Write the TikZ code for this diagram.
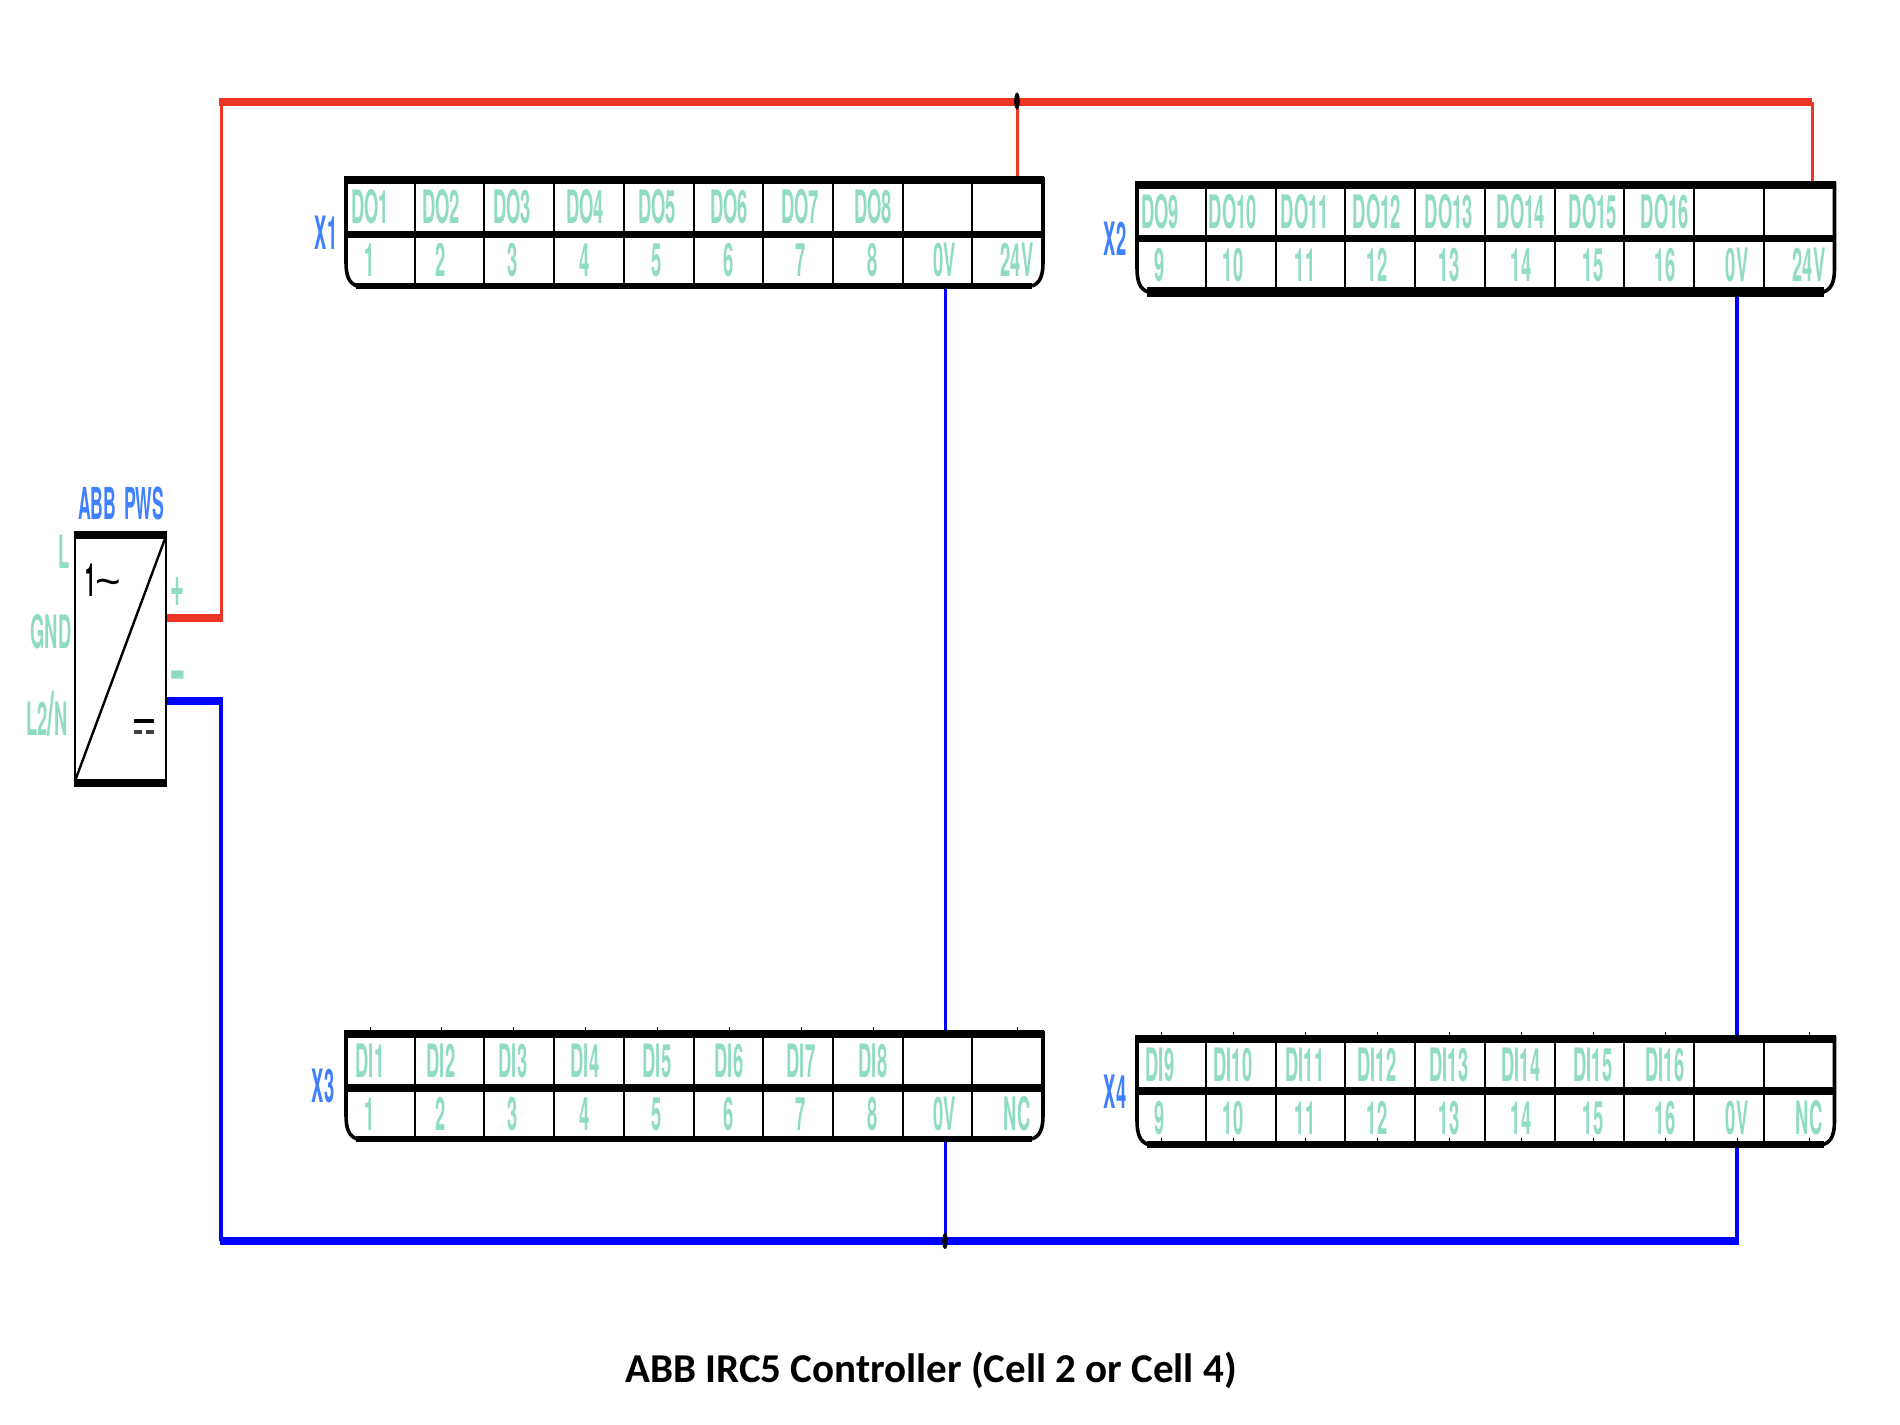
\documentclass[tikz,border=0pt]{standalone}
\usepackage{fontspec}
\setmainfont{Liberation Sans}
\newfontfamily\cadfont[FakeStretch=0.40]{TeX Gyre Heros Bold}
\newfontfamily\titlefont{Carlito Bold}
\definecolor{cadteal}{HTML}{8FDCC1}
\definecolor{cadblue}{HTML}{3F80FF}
\definecolor{wirered}{HTML}{EE3524}
\definecolor{wireblue}{HTML}{0000FF}
\tikzset{
  x=0.5pt,y=-0.5pt,
  tealtext/.style={text=cadteal,font=\cadfont\fontsize{23}{23}\selectfont,inner sep=0pt},
  bluetext/.style={text=cadblue,font=\cadfont\fontsize{23}{23}\selectfont,inner sep=0pt},
  band/.style={line width=3.6pt,black,line cap=butt},
  cellline/.style={line width=1pt,black},
  sideline/.style={line width=1.8pt,black},
  redthick/.style={line width=3.7pt,wirered,line join=miter},
  redthin/.style={line width=1.5pt,wirered},
  bluethick/.style={line width=3.8pt,wireblue,line join=miter},
  bluethin/.style={line width=1.5pt,wireblue},
  junction/.style={ellipse,draw=none,fill=black,minimum width=2.8pt,minimum height=8.5pt,inner sep=0pt},
}
\usetikzlibrary{shapes.geometric}
% #1 name, #2 left, #3 top, #4 cell width, #5 mid, #6 bottom, #7 bottom band width
\newcommand{\stripbox}[7]{%
  \coordinate (#1-tl) at (#2,#3);
  \draw[band] (#2-1,#3) -- ++(10*#4+3,0);
  \draw[band] (#2-1,#5) -- ++(10*#4+3,0);
  \draw[line width=#7,black] (#2+11,#6) -- ++(10*#4-21,0);
  \foreach \k in {1,...,9} {\draw[cellline] (#2+\k*#4,#3) -- (#2+\k*#4,#6);}
  \draw[sideline] (#2+1,#3-3) -- (#2+1,#6-24) .. controls (#2+1,#6-10) and (#2+4,#6-3) .. (#2+12,#6);
  \draw[sideline] (#2+10*#4+1,#3-3) -- (#2+10*#4+1,#6-24) .. controls (#2+10*#4+1,#6-10) and (#2+10*#4-2,#6-3) .. (#2+10*#4-10,#6);
}
\newcommand{\rowlabels}[2]{%
  \foreach \lx/\lt in {#2} {\node[tealtext,anchor=center] at (\lx,#1) {\lt};}
}
\newcommand{\tickmarks}[1]{%
  \foreach \lx in {#1} {\draw[line width=.5pt,black] (\lx,\ya) -- (\lx,\ya-3);\draw[line width=.5pt,black] (\lx,\yb) -- (\lx,\yb-3);}
}
\begin{document}
\begin{tikzpicture}
\useasboundingbox (0,0) rectangle (1900,1424);
\fill[white] (0,0) rectangle (1900,1424);

% wires first
\coordinate (plus) at (165,618);
\coordinate (minus) at (165,701);
\coordinate (redL) at (221,618);
\coordinate (redTL) at (221,102);
\coordinate (redTR) at (1812,102);
\coordinate (redJ) at (1017,101);
\coordinate (x1v) at (1017,180);
\coordinate (x2v) at (1812,185);
\coordinate (bluL) at (221,701);
\coordinate (bluBL) at (221,1241);
\coordinate (bluBR) at (1737,1241);
\coordinate (bluJ) at (945,1241);
\coordinate (x1o) at (945,286);
\coordinate (x3ot) at (945,1034);
\coordinate (x3ob) at (945,1139);
\coordinate (x2o) at (1737,292);
\coordinate (x4ot) at (1737,1041);
\coordinate (x4ob) at (1737,1144);

\draw[redthick] (plus) -- ++(58,0);
\draw[redthin] (redL) -- (redTL);
\draw[redthick] (219,102) -- (redTR);
\draw[redthin] (redTR) -- (x2v);
\draw[redthin] (redJ) -- (x1v);
\node[junction] (jr) at (redJ) {};
\draw[bluethick] (minus) -- ++(58,0);
\draw[line width=1.9pt,wireblue] (bluL) -- (bluBL);
\draw[bluethick] (220,1241) -- (1739,1241);
\draw[bluethin] (x1o) -- (x3ot);
\draw[bluethin] (x3ob) -- (bluJ);
\draw[line width=2pt,wireblue] (x2o) -- (x4ot);
\draw[line width=2pt,wireblue] (x4ob) -- (bluBR);
\node[junction,minimum height=8pt] (jb) at (bluJ) {};

% terminal strips
\stripbox{x1}{345}{180}{69.7}{234.5}{286}{3.4pt}
\stripbox{x2}{1136}{185}{69.75}{238.5}{292}{5pt}
\stripbox{x3}{345}{1034}{69.7}{1088}{1139}{3.4pt}
\stripbox{x4}{1136}{1039}{69.75}{1091}{1144.5}{3.5pt}

\rowlabels{207}{370/DO1,441/DO2,512/DO3,585/DO4,657/DO5,729/DO6,800/DO7,873/DO8}
\rowlabels{260}{370/1,441/2,513/3,585/4,657/5,729/6,801/7,873/8,945/0V,1017/24V}
\rowlabels{212}{1160/DO9,1233/DO10,1305/DO11,1377/DO12,1449/DO13,1521/DO14,1593/DO15,1665/DO16}
\rowlabels{265}{1160/9,1233/10,1305/11,1377/12,1449/13,1521/14,1593/15,1665/16,1737/0V,1809/24V}
\rowlabels{1061}{370/DI1,441/DI2,513/DI3,585/DI4,657/DI5,729/DI6,801/DI7,873/DI8}
\rowlabels{1114}{370/1,441/2,513/3,585/4,657/5,729/6,801/7,873/8,945/0V,1017/NC}
\rowlabels{1065}{1160/DI9,1233/DI10,1305/DI11,1377/DI12,1449/DI13,1521/DI14,1593/DI15,1665/DI16}
\rowlabels{1118}{1160/9,1233/10,1305/11,1377/12,1449/13,1521/14,1593/15,1665/16,1737/0V,1809/NC}

\def\ya{1030}\def\yb{1139}
\tickmarks{370,441,513,585,657,729,801,873,945,1017}
\def\ya{1035}\def\yb{1141}
\tickmarks{1161,1233,1305,1377,1449,1521,1593,1665,1737,1809}

\node[bluetext] (lx1) at (326,233) {X1};
\node[bluetext] (lx2) at (1115,239) {X2};
\node[bluetext] (lx3) at (323,1086) {X3};
\node[bluetext] (lx4) at (1115,1092) {X4};

% power supply
\draw[line width=1pt,black] (75,535) -- (75,783);
\draw[line width=1pt,black] (165.5,535) -- (165.5,783);
\draw[band] (74,535) -- (167,535);
\draw[band] (74,783) -- (167,783);
\draw[line width=1.2pt,black] (75,781) -- (166,536);
\node[bluetext,font=\cadfont\fontsize{22}{22}\selectfont] (pws) at (121,503) {ABB\hspace{.18em}PWS};
\node[tealtext] (lL) at (64,552) {L};
\node[tealtext] (lG) at (51,632) {GND};
\node[tealtext] (lN) at (47,714) {L2{\fontsize{31}{31}\selectfont/}N};
\node[tealtext,font=\cadfont\fontsize{30}{30}\selectfont] (lp) at (178,592) {+};
\node[tealtext,font=\cadfont\fontsize{30}{30}\selectfont] (lm) at (178,681) {\scalebox{1.9}[1]{-}};
\node[inner sep=0pt,font=\fontsize{22}{22}\selectfont] (acdc) at (103,580) {{\cadfont\fontsize{23}{23}\selectfont 1}\char"007E};
\draw[line width=2pt,black] (134,720.5) -- (154,720.5);
\draw[line width=2pt,black!75] (134,732) -- (142,732) (146,732) -- (154,732);

\node[inner sep=0pt,font=\titlefont\fontsize{20.5}{20.5}\selectfont] (title) at (931,1370) {ABB IRC5 Controller (Cell 2 or Cell 4)};
\end{tikzpicture}
\end{document}
